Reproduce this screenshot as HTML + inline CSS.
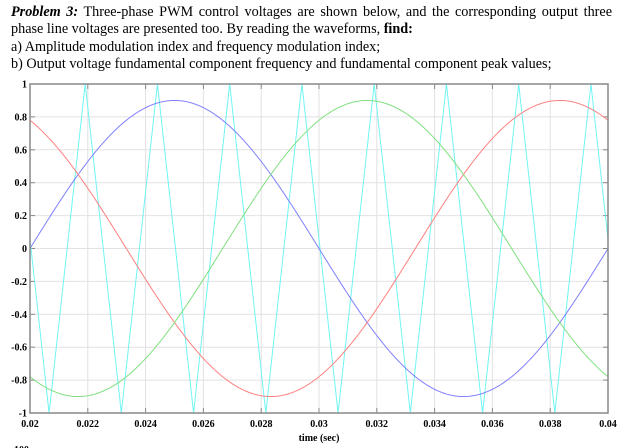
<!DOCTYPE html>
<html><head><meta charset="utf-8"><style>
body{margin:0;background:#fff;width:642px;height:448px;overflow:hidden;position:relative;font-family:"Liberation Serif",serif}
#txt{position:absolute;left:11px;top:4px;width:601px;font-size:14.2px;line-height:17.4px;color:#000}
#txt div{white-space:nowrap}
.j{text-align:justify;text-align-last:justify;white-space:normal!important;height:17.4px;overflow:visible}
svg{position:absolute;left:0;top:0}
</style></head><body>
<div id="txt">
<div class="j"><b><i>Problem 3:</i></b> Three-phase PWM control voltages are shown below, and the corresponding output three</div>
<div>phase line voltages are presented too. By reading the waveforms, <b>find:</b></div>
<div>a) Amplitude modulation index and frequency modulation index;</div>
<div>b) Output voltage fundamental component frequency and fundamental component peak values;</div>
</div>
<svg id="ch" width="642" height="448"></svg>
<script>
const xTicks=[0.02,0.022,0.024,0.026,0.028,0.03,0.032,0.034,0.036,0.038,0.04];
const xTickLabels=["0.02","0.022","0.024","0.026","0.028","0.03","0.032","0.034","0.036","0.038","0.04"];
const yTicks=[1,0.8,0.6,0.4,0.2,0,-0.2,-0.4,-0.6,-0.8,-1];
const yTickLabels=["1","0.8","0.6","0.4","0.2","0","-0.2","-0.4","-0.6","-0.8","-1"];
const seriesNames=["phase-a","phase-b","phase-c"];
const seriesColors=["#8080ff","#ff8080","#80e080"];
const seriesAmp=[0.9,0.9,0.9];
const seriesFreq=[50,50,50];
const seriesPhaseDeg=[0,120,-120];
const carrierT=[0.02,0.02066,0.02191,0.02316,0.02441,0.02566,0.02691,0.02816,0.02941,0.03066,0.03191,0.03316,0.03441,0.03566,0.03691,0.03816,0.03941,0.04];
const carrierV=[0.056,-1,1,-1,1,-1,1,-1,1,-1,1,-1,1,-1,1,-1,1,0.056];
const NS='http://www.w3.org/2000/svg';
const svg=document.getElementById('ch');
const X0=30,X1=608,Y0=84,Y1=413;
const xs=t=>X0+(t-0.02)/0.02*(X1-X0);
const ys=v=>Y0+(1-v)/2*(Y1-Y0);
function mk(tag,at){const e=document.createElementNS(NS,tag);for(const k in at)e.setAttribute(k,at[k]);svg.appendChild(e);return e;}
const bg=mk('rect',{x:X0,y:Y0,width:X1-X0,height:Y1-Y0,fill:'#fff'});


xTicks.forEach((t,i)=>{
 const g=mk('line',{x1:xs(t),x2:xs(t),y1:Y0,y2:Y1,stroke:'#e2e2e2','stroke-width':1});
 
 
 const tk=mk('line',{x1:xs(t),x2:xs(t),y1:Y1,y2:Y1-5,stroke:'#888'});
 
 
 const tk2=mk('line',{x1:xs(t),x2:xs(t),y1:Y0,y2:Y0+5,stroke:'#888'});
 
 
 const l=mk('text',{x:xs(t),y:Y1+14,'font-size':10,'font-weight':'bold','text-anchor':'middle','font-family':'Liberation Serif'});
 l.textContent=xTickLabels[i];
 
 
});
yTicks.forEach((v,i)=>{
 const g=mk('line',{x1:X0,x2:X1,y1:ys(v),y2:ys(v),stroke:'#e2e2e2','stroke-width':1});
 
 
 const tk=mk('line',{x1:X0,x2:X0+5,y1:ys(v),y2:ys(v),stroke:'#888'});
 
 
 const tk2=mk('line',{x1:X1,x2:X1-5,y1:ys(v),y2:ys(v),stroke:'#888'});
 
 
 const l=mk('text',{x:X0-3,y:ys(v)+3.5,'font-size':10,'font-weight':'bold','text-anchor':'end','font-family':'Liberation Serif'});
 l.textContent=yTickLabels[i];
 
 
});
const cp=carrierT.map((t,i)=>xs(t).toFixed(2)+','+ys(carrierV[i]).toFixed(2)).join(' ');
const car=mk('polyline',{points:cp,fill:'none',stroke:'#70f4f4','stroke-width':1});


seriesNames.forEach((n,i)=>{
 const pts=[];
 for(let k=0;k<=400;k++){const t=0.02+k*0.02/400;
  const v=seriesAmp[i]*Math.sin(2*Math.PI*seriesFreq[i]*(t-0.02)+seriesPhaseDeg[i]*Math.PI/180);
  pts.push(xs(t).toFixed(2)+','+ys(v).toFixed(2));}
 const p=mk('polyline',{points:pts.join(' '),fill:'none',stroke:seriesColors[i],'stroke-width':1});
 
 
});
const fr=mk('rect',{x:X0,y:Y0,width:X1-X0,height:Y1-Y0,fill:'none',stroke:'#888','stroke-width':1.5});


const xt=mk('text',{x:(X0+X1)/2,y:441,'font-size':10,'font-weight':'bold','text-anchor':'middle','font-family':'Liberation Serif'});
xt.textContent='time (sec)';


const cut=mk('text',{x:14,y:453,'font-size':10,'font-weight':'bold','font-family':'Liberation Serif'});
cut.textContent='100';


</script>
</body></html>
